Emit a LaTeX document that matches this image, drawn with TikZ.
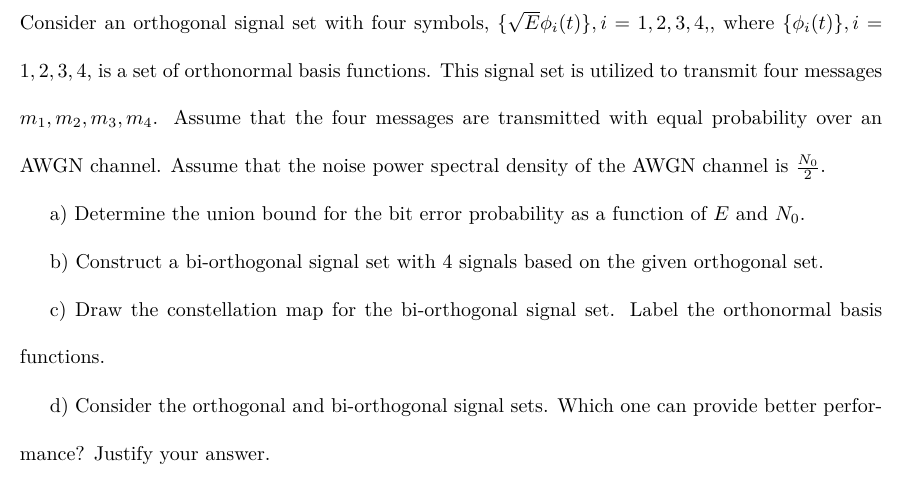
\documentclass[tikz,border=0pt]{standalone}
\usepackage{amsmath}
\begin{document}
\begin{tikzpicture}[x=1pt,y=1pt,
  ln/.style={anchor=base west,inner sep=0pt,outer sep=0pt,scale=1.333,transform shape}]
\useasboundingbox (0,0) rectangle (602,-318);
\node[ln] (l1) at (13.3,-20) {\hbox to 431.3pt{Consider an orthogonal signal set with four symbols, $\{\sqrt{E}\phi_i(t)\}, i=1,2,3,4,$, where $\{\phi_i(t)\}, i=$}};
\node[ln] (l2) at (13.3,-52) {\hbox to 431.3pt{$1,2,3,4$, is a set of orthonormal basis functions. This signal set is utilized to transmit four messages}};
\node[ln] (l3) at (13.3,-83.3) {\hbox to 431.3pt{$m_1,m_2,m_3,m_4$. Assume that the four messages are transmitted with equal probability over an}};
\node[ln] (l4) at (13.3,-115.3) {AWGN channel. Assume that the noise power spectral density of the AWGN channel is $\frac{N_0}{2}$.};
\node[ln] (l5) at (33.3,-147.3) {a) Determine the union bound for the bit error probability as a function of $E$ and $N_0$.};
\node[ln] (l6) at (33.3,-178.7) {b) Construct a bi-orthogonal signal set with 4 signals based on the given orthogonal set.};
\node[ln] (l7) at (33.3,-210.7) {\hbox to 416.3pt{c) Draw the constellation map for the bi-orthogonal signal set. Label the orthonormal basis}};
\node[ln] (l8) at (13.3,-242) {functions.};
\node[ln] (l9) at (33.3,-274.7) {\hbox to 416.3pt{d) Consider the orthogonal and bi-orthogonal signal sets. Which one can provide better perfor-}};
\node[ln] (l10) at (13.3,-306.7) {mance? Justify your answer.};
\end{tikzpicture}
\end{document}
